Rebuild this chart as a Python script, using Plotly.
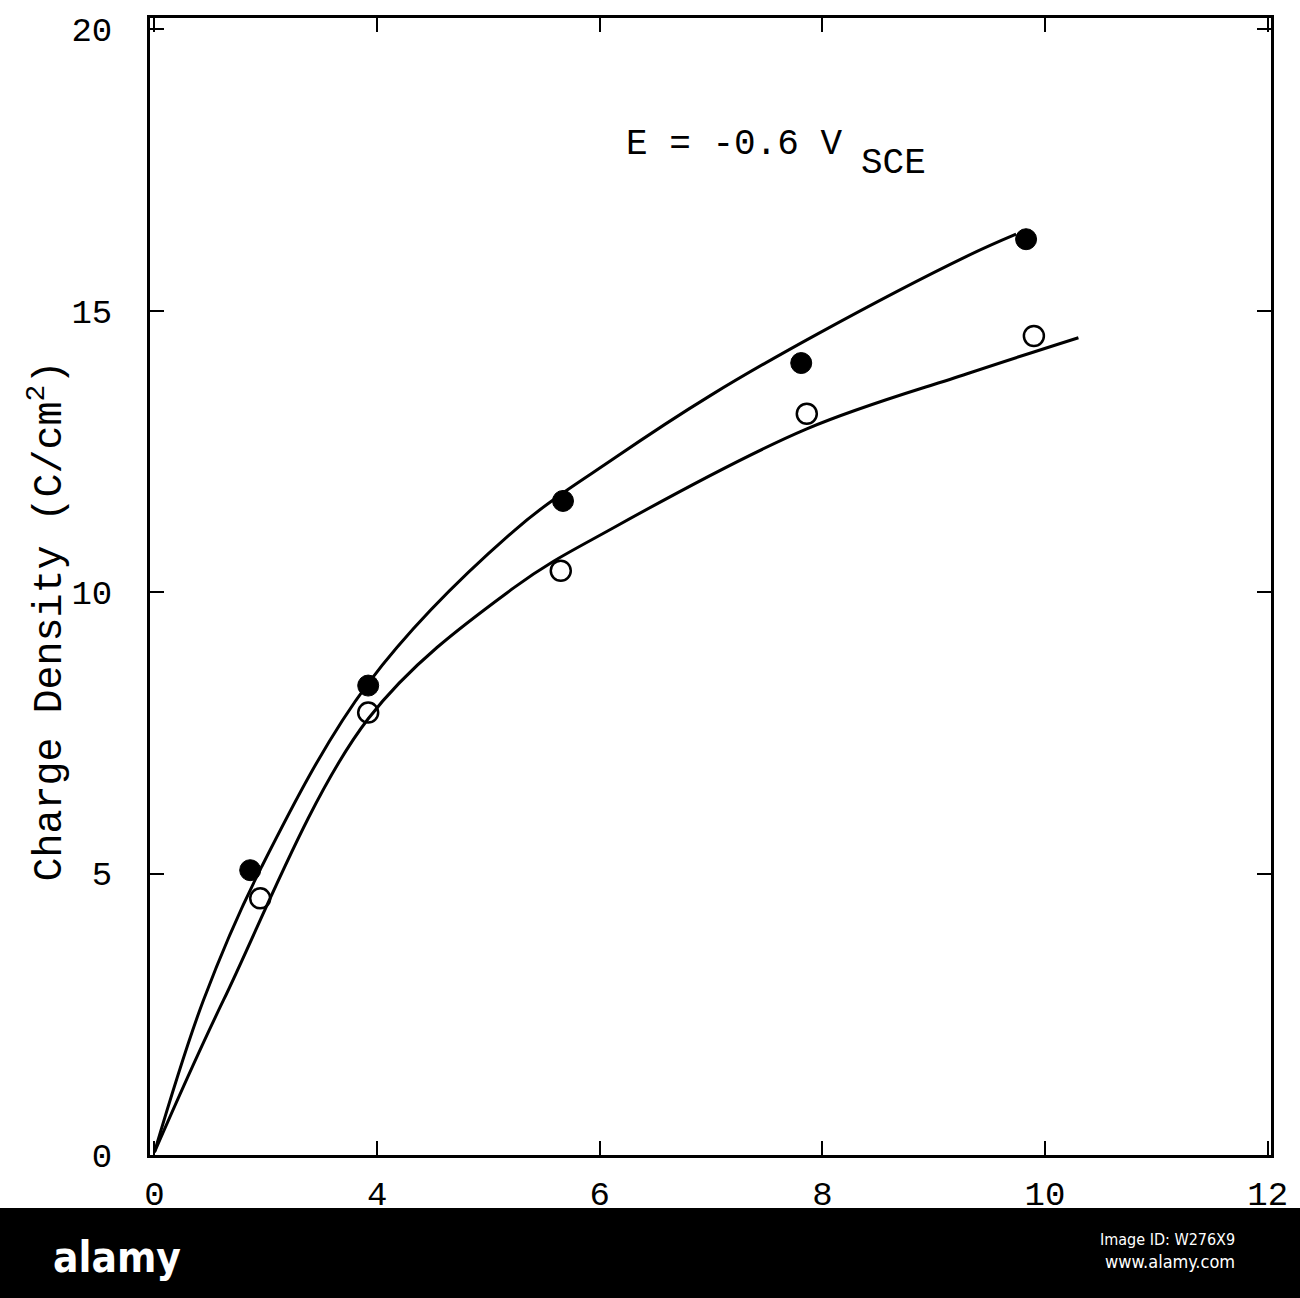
import plotly.graph_objects as go

# ---- data ----
x_tickvals = [0, 2, 4, 6, 8, 10]
x_ticktext = ["0", "4", "6", "8", "10", "12"]
y_tickvals = [0, 5, 10, 15, 20]
y_ticktext = ["0", "5", "10", "15", "20"]

filled_x = [0.86, 1.92, 3.67, 5.81, 7.83]
filled_y = [5.06, 8.34, 11.62, 14.07, 16.27]

open_x = [0.95, 1.92, 3.65, 5.86, 7.90]
open_y = [4.56, 7.86, 10.38, 13.17, 14.55]

upper_curve_x = [0.0, 0.44, 0.96, 1.92, 3.23, 4.14, 5.00, 5.95, 7.30, 7.74]
upper_curve_y = [0.05, 2.75, 5.11, 8.38, 11.09, 12.39, 13.50, 14.58, 15.97, 16.36]

lower_curve_x = [0.0, 0.62, 1.92, 3.23, 4.12, 5.86, 7.30, 8.30]
lower_curve_y = [0.05, 2.75, 7.75, 10.08, 11.14, 12.90, 13.88, 14.52]

FONT = "Liberation Mono"
WM_FONT = "Liberation Sans Narrow, DejaVu Sans Condensed, DejaVu Sans"

fig = go.Figure()

fig.add_trace(go.Scatter(x=upper_curve_x, y=upper_curve_y, mode="lines",
                         line=dict(color="black", width=3, shape="spline", smoothing=1.0),
                         showlegend=False, hoverinfo="skip"))
fig.add_trace(go.Scatter(x=lower_curve_x, y=lower_curve_y, mode="lines",
                         line=dict(color="black", width=3, shape="spline", smoothing=1.0),
                         showlegend=False, hoverinfo="skip"))
fig.add_trace(go.Scatter(x=filled_x, y=filled_y, mode="markers",
                         marker=dict(symbol="circle", size=21, color="black",
                                     line=dict(color="black", width=1)),
                         showlegend=False))
fig.add_trace(go.Scatter(x=open_x, y=open_y, mode="markers",
                         marker=dict(symbol="circle-open", size=20, color="black",
                                     line=dict(color="black", width=2.5)),
                         showlegend=False))

fig.update_xaxes(range=[-0.04, 10.03], tickvals=x_tickvals, ticktext=x_ticktext,
                 ticks="inside", ticklen=14, tickwidth=2, tickcolor="black",
                 showline=True, linecolor="black", linewidth=3, mirror="ticks",
                 showgrid=False, zeroline=False,
                 tickfont=dict(family=FONT, size=34, color="black"),
                 ticklabelstandoff=6)
fig.update_yaxes(range=[0, 20.2], tickvals=y_tickvals, ticktext=y_ticktext,
                 ticks="inside", ticklen=14, tickwidth=2, tickcolor="black",
                 showline=True, linecolor="black", linewidth=3, mirror="ticks",
                 showgrid=False, zeroline=False,
                 tickfont=dict(family=FONT, size=34, color="black"),
                 ticklabelstandoff=28)

annotations = [
    dict(text="Charge Density (C/cm<sup>2</sup>)", xref="paper", yref="paper",
         x=-0.092, y=0.47, textangle=-90, showarrow=False,
         font=dict(family=FONT, size=40, color="black"),
         xanchor="center", yanchor="middle"),
    dict(text="E = -0.6 V", xref="x", yref="y", x=4.22, y=17.95,
         showarrow=False, xanchor="left", yanchor="middle",
         font=dict(family=FONT, size=36, color="black")),
    dict(text="SCE", xref="x", yref="y", x=6.33, y=17.62,
         showarrow=False, xanchor="left", yanchor="middle",
         font=dict(family=FONT, size=36, color="black")),
    dict(text="<b>alamy</b>", xref="paper", yref="paper",
         x=-0.088, y=-0.09, showarrow=False, xanchor="left", yanchor="middle",
         font=dict(family=WM_FONT, size=42, color="white")),
    dict(text="Image ID: W276X9", xref="paper", yref="paper",
         x=0.97, y=-0.074, showarrow=False, xanchor="right", yanchor="middle",
         font=dict(family=WM_FONT, size=16, color="white")),
    dict(text="www.alamy.com", xref="paper", yref="paper",
         x=0.97, y=-0.094, showarrow=False, xanchor="right", yanchor="middle",
         font=dict(family=WM_FONT, size=18, color="white")),
]

shapes = [
    dict(type="rect", xref="paper", yref="paper",
         x0=-0.2, x1=1.1, y0=-0.2, y1=-0.0466,
         fillcolor="black", line=dict(width=0), layer="above"),
]

fig.update_layout(width=1300, height=1298,
                  margin=dict(l=150, r=18, t=18, b=143),
                  paper_bgcolor="white", plot_bgcolor="white",
                  annotations=annotations, shapes=shapes,
                  showlegend=False)

fig.write_html("out.html",
               config={"displayModeBar": False},
               post_script="document.body.style.margin='0';document.body.style.overflow='hidden';")
